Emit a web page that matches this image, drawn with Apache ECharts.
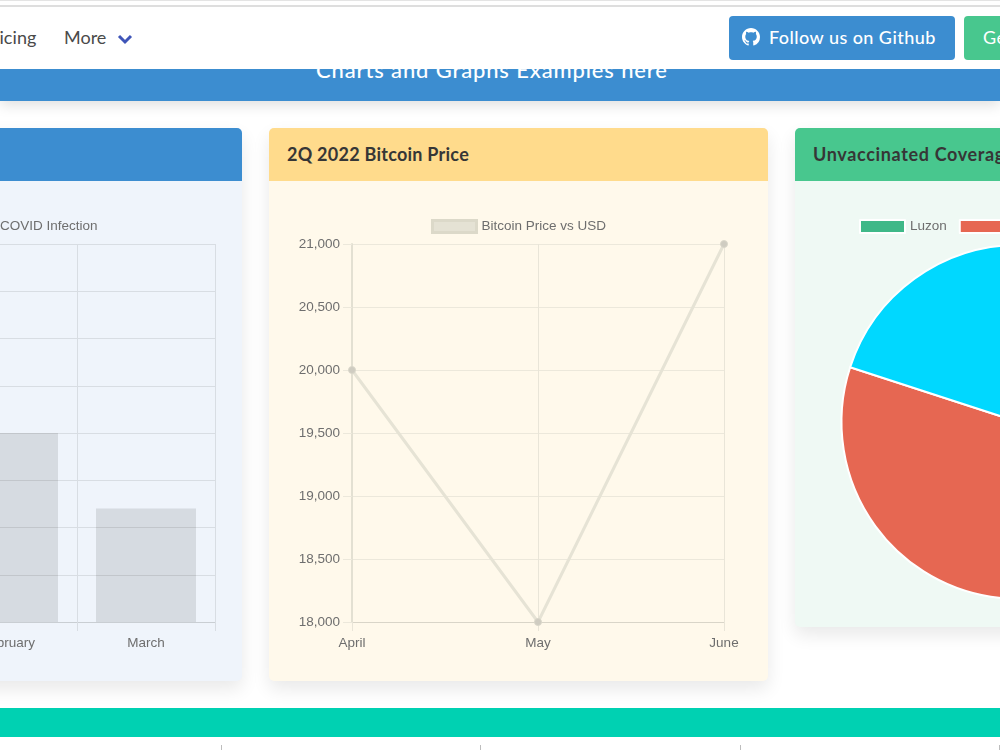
<!DOCTYPE html>
<html><head><meta charset="utf-8">
<script src="https://cdn.jsdelivr.net/npm/echarts@6/dist/echarts.min.js"></script>
<style>
html,body{margin:0;padding:0;width:1000px;height:750px;overflow:hidden;background:#fff;font-family:Lato,"Open Sans",sans-serif;}
.a{position:absolute;}
.t{white-space:nowrap;}
#clip{position:absolute;left:0;top:0;width:1000px;height:750px;overflow:hidden;}
#chart{position:absolute;left:-300px;top:0;width:1600px;height:750px;}
.card{box-shadow:0 8px 18px rgba(10,10,10,.09);border-radius:5px;}
</style></head><body>
<div class="a" style="left:0;top:0;width:1000px;height:1px;background:#e4e4e4"></div>
<div class="a" style="left:0;top:5px;width:1000px;height:2px;background:#dedede"></div>
<div class="a" style="left:0;top:69px;width:1000px;height:32px;background:#3c8dd0;box-shadow:0 4px 14px rgba(10,10,10,.13);overflow:hidden">
  <div class="a t" style="left:316px;top:-13px;font-size:22px;font-weight:500;color:#fff;letter-spacing:.85px">Charts and Graphs Examples here</div>
</div>
<div class="a" style="left:0;top:7px;width:1000px;height:62px;background:#fff"></div>
<div class="a t" style="left:-18px;top:26px;font-size:18px;color:#4a4a4a;letter-spacing:.1px">Pricing</div>
<div class="a t" style="left:64px;top:26px;font-size:18px;color:#4a4a4a;">More</div>
<svg class="a" style="left:117px;top:33px" width="16" height="12" viewBox="0 0 16 12"><path d="M2 3 L8 9 L14 3" fill="none" stroke="#3f55b8" stroke-width="3"/></svg>
<div class="a" style="left:729px;top:16px;width:226px;height:44px;background:#3c8dd0;border-radius:4px"></div>
<svg class="a" style="left:742px;top:28px" width="18" height="18" viewBox="0 0 16 16"><path fill="#fff" d="M8 0C3.58 0 0 3.58 0 8c0 3.54 2.29 6.53 5.47 7.59.4.07.55-.17.55-.38 0-.19-.01-.82-.01-1.49-2.01.37-2.53-.49-2.69-.94-.09-.23-.48-.94-.82-1.13-.28-.15-.68-.52-.01-.53.63-.01 1.08.58 1.23.82.72 1.21 1.87.87 2.33.66.07-.52.28-.87.51-1.07-1.78-.2-3.64-.89-3.64-3.95 0-.87.31-1.59.82-2.15-.08-.2-.36-1.02.08-2.12 0 0 .67-.21 2.2.82.64-.18 1.32-.27 2-.27s1.36.09 2 .27c1.53-1.04 2.2-.82 2.2-.82.44 1.1.16 1.92.08 2.12.51.56.82 1.27.82 2.15 0 3.07-1.87 3.75-3.65 3.95.29.25.54.73.54 1.48 0 1.07-.01 1.93-.01 2.2 0 .21.15.46.55.38A8.01 8.01 0 0 0 16 8c0-4.42-3.58-8-8-8z"/></svg>
<div class="a t" style="left:769px;top:26px;font-size:18px;font-weight:500;color:#fff;letter-spacing:.45px">Follow us on Github</div>
<div class="a" style="left:964px;top:16px;width:60px;height:44px;background:#48c78e;border-radius:4px"></div>
<div class="a t" style="left:983px;top:26px;font-size:18px;color:#fff;letter-spacing:.45px">Get</div>

<div class="a card" style="left:-260px;top:128px;width:502px;height:553px;background:#eff4fb"></div>
<div class="a" style="left:-260px;top:128px;width:502px;height:53px;background:#3c8dd0;border-radius:5px 5px 0 0"></div>
<div class="a card" style="left:269px;top:128px;width:499px;height:553px;background:#fff9eb"></div>
<div class="a" style="left:269px;top:128px;width:499px;height:53px;background:#ffdb8c;border-radius:5px 5px 0 0"></div>
<div class="a t" style="left:287px;top:143px;font-size:18px;font-weight:700;color:#363636;letter-spacing:.25px">2Q 2022 Bitcoin Price</div>
<div class="a card" style="left:795px;top:128px;width:499px;height:499px;background:#eff9f4"></div>
<div class="a" style="left:795px;top:128px;width:499px;height:53px;background:#48c78e;border-radius:5px 5px 0 0"></div>
<div class="a t" style="left:813px;top:143px;font-size:18px;font-weight:700;color:#363636;letter-spacing:.65px">Unvaccinated Coverage</div>

<div class="a" style="left:0;top:708px;width:1000px;height:29px;background:#00d1b2"></div>
<div class="a" style="left:221px;top:745px;width:1px;height:5px;background:#bdbdbd"></div>
<div class="a" style="left:480px;top:745px;width:1px;height:5px;background:#bdbdbd"></div>
<div class="a" style="left:740px;top:745px;width:1px;height:5px;background:#bdbdbd"></div>
<div class="a" style="left:999px;top:745px;width:1px;height:5px;background:#bdbdbd"></div>
<div id="clip"><div id="chart"></div></div>
<script>
const barCategories = ["January", "February", "March"];
const barValues = [8, 4, 2.4];
const barTicks = [0, 1, 2, 3, 4, 5, 6, 7, 8];
const lineCategories = ["April", "May", "June"];
const lineValues = [20000, 18000, 21000];
const pieNames = ["Luzon", "Visayas", "Mindanao"];
const pieValues = [40, 40, 20];
const pieColors = ["#3fb888", "#e66752", "#00d8ff"];

const OFF = 300; // the chart canvas starts this far left of the window: the first card runs off the page
const FONT = '"Liberation Sans", Arial, sans-serif';
const txt = {color: '#6e6e6e', fontSize: 13.5, fontFamily: FONT};
const chart = echarts.init(document.getElementById('chart'), null, {renderer: 'canvas'});
chart.setOption({
  animation: false,
  backgroundColor: 'transparent',
  legend: [
    {data: [{name: 'COVID Infection', icon: 'rect', itemStyle: {color: 'rgba(0,0,0,0.1)', borderWidth: 0}}],
     left: OFF - 49, top: 219, itemWidth: 44, itemHeight: 12, textStyle: txt, selectedMode: false, padding: 0, width: 300},
    {data: [{name: 'Bitcoin Price vs USD', icon: 'rect', itemStyle: {color: '#e5e2d4', borderColor: '#dcd9c9', borderWidth: 3}}],
     left: OFF + 431, top: 219, itemWidth: 44, itemHeight: 12, textStyle: txt, selectedMode: false, padding: 0, width: 300},
    {data: pieNames.map(n => ({name: n, icon: 'rect'})),
     left: OFF + 859, top: 219, itemWidth: 45, itemHeight: 13, itemGap: 12, selectedMode: false, padding: 0, width: 600,
     textStyle: txt}
  ],
  grid: [
    {left: OFF - 199, top: 244, width: 414, height: 378},
    {left: OFF + 352, top: 244, width: 372, height: 378}
  ],
  xAxis: [
    {type: 'category', gridIndex: 0, data: barCategories,
     axisLine: {lineStyle: {color: '#c9ced3', width: 1}},
     axisTick: {show: true, length: 9, lineStyle: {color: '#d8dde3'}},
     splitLine: {show: true, lineStyle: {color: '#d8dde3', width: 1}},
     axisLabel: Object.assign({margin: 14}, txt)},
    {type: 'category', gridIndex: 1, data: lineCategories, boundaryGap: false,
     axisLine: {lineStyle: {color: '#d9d5c8', width: 1}},
     axisTick: {show: true, length: 9, lineStyle: {color: '#e9e5d8'}},
     splitLine: {show: true, lineStyle: {color: '#e9e5d8', width: 1}},
     axisLabel: Object.assign({margin: 14, showMinLabel: true, showMaxLabel: true, hideOverlap: false}, txt)}
  ],
  yAxis: [
    {type: 'value', gridIndex: 0, min: barTicks[0], max: barTicks[barTicks.length - 1], interval: 1,
     axisLine: {show: false}, axisTick: {show: false}, axisLabel: {show: false},
     splitLine: {show: true, lineStyle: {color: '#d8dde3', width: 1}}},
    {type: 'value', gridIndex: 1, min: 18000, max: 21000, interval: 500,
     axisLine: {show: true, lineStyle: {color: '#e3e0d2', width: 2}},
     axisTick: {show: true, length: 9, lineStyle: {color: '#ece8db'}},
     splitLine: {show: true, lineStyle: {color: '#ece8db', width: 1}},
     axisLabel: Object.assign({margin: 12}, txt)}
  ],
  series: [
    {type: 'bar', name: 'COVID Infection', xAxisIndex: 0, yAxisIndex: 0, data: barValues,
     barWidth: 100, itemStyle: {color: 'rgba(0,0,0,0.1)'}},
    {type: 'line', name: 'Bitcoin Price vs USD', xAxisIndex: 1, yAxisIndex: 1, data: lineValues,
     symbol: 'circle', symbolSize: 7, showSymbol: true,
     lineStyle: {color: '#e6e3d5', width: 3},
     itemStyle: {color: '#cfccc1', borderColor: '#dad7ca', borderWidth: 1}},
    {type: 'pie', center: [OFF + 1018.5, 422], radius: [0, 177], startAngle: 90, clockwise: true,
     label: {show: false}, labelLine: {show: false}, silent: true,
     itemStyle: {borderColor: '#fff', borderWidth: 2},
     data: pieNames.map((n, i) => ({name: n, value: pieValues[i], itemStyle: {color: pieColors[i]}}))}
  ]
});
</script>
</body></html>
